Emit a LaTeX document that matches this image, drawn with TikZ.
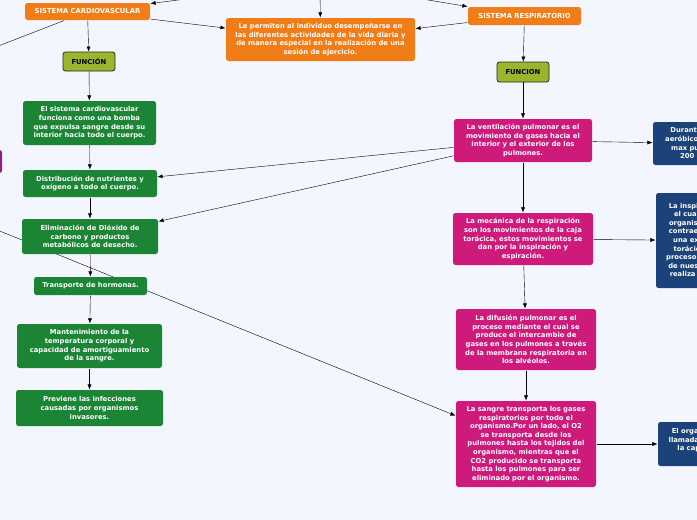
\documentclass[tikz,border=0pt]{standalone}
\usepackage{fontspec}
\setmainfont{DejaVu Sans}
\usepackage{tikz}
\usetikzlibrary{arrows.meta}
\tikzset{>={Latex[length=5pt,width=4pt]}}
\definecolor{bgcol}{HTML}{F3F6FE}
\definecolor{naranja}{HTML}{F07D18}
\definecolor{verde}{HTML}{1B8535}
\definecolor{oliva}{HTML}{9BB52C}
\definecolor{rosa}{HTML}{CD1A7B}
\definecolor{azul}{HTML}{1B4379}
\definecolor{morado}{HTML}{8C1E8C}
\pgfdeclarelayer{edges}
\pgfsetlayers{edges,main}

\begin{document}
\begin{tikzpicture}[x=1pt,y=-1pt,line width=1.1pt,
  box/.style = {rounded corners=2.5pt, align=center, inner sep=1pt, text=white,
                font=\fontsize{6.8}{8.6}\selectfont\bfseries},
  org/.style = {box, fill=naranja},
  fun/.style = {box, fill=oliva, draw=black!85, line width=0.8pt, text=black},
  grn/.style = {box, fill=verde},
  pnk/.style = {box, fill=rosa},
  blu/.style = {box, fill=azul}]
\useasboundingbox (0,0) rectangle (697,520);
\clip (0,0) rectangle (697,520);
    % nodos fuera del cuadro
    \node[org,minimum width=250,minimum height=26] (root) at (320,-18) {};
    \node[box,fill=morado,minimum width=84,minimum height=23] (mor) at (-40,161.5) {};
    \coordinate (ofa) at (-100,84);
    \coordinate (ofb) at (-100,190.6);
    % sistemas
    \node[org,minimum width=125,minimum height=17] (sc) at (87.5,11.5) {SISTEMA CARDIOVASCULAR};
    \node[org,minimum width=113,minimum height=18] (sr) at (524.5,16) {SISTEMA RESPIRATORIO};
    \node[org,minimum width=189,minimum height=43] (top) at (320.5,39.5) {Le permiten al individuo desempeñarse en\\las diferentes actividades de la vida diaria y\\de manera especial en la realización de una\\sesión de ejercicio.};
    \node[fun,minimum width=52,minimum height=19] (f1) at (89,61.5) {FUNCIÓN};
    \node[fun,minimum width=52,minimum height=20] (f2) at (523,72) {FUNCION};
    % cardiovascular
    \node[grn,minimum width=133,minimum height=44] (g1) at (89.5,123) {El sistema cardiovascular\\funciona como una bomba\\que expulsa sangre desde su\\interior hacia todo el cuerpo.};
    \node[grn,minimum width=134,minimum height=27] (g2) at (90,183.5) {Distribución de nutrientes y\\oxígeno a todo el cuerpo.};
    \node[grn,minimum width=136,minimum height=35] (g3) at (90,236.5) {Eliminación de Dióxido de\\carbono y productos\\metabólicos de desecho.};
    \node[grn,minimum width=113,minimum height=18] (g4) at (90.5,286) {Transporte de hormonas.};
    \node[grn,minimum width=145,minimum height=44] (g5) at (89.5,346) {Mantenimiento de la\\temperatura corporal y\\capacidad de amortiguamiento\\de la sangre.};
    \node[grn,minimum width=147,minimum height=36] (g6) at (89.5,408) {Previene las infecciones\\causadas por organismos\\invasores.};
    % respiratorio
    \node[pnk,minimum width=138,minimum height=43] (p1) at (523,140.5) {La ventilación pulmonar es el\\movimiento de gases hacia el\\interior y el exterior de los\\pulmones.};
    \node[pnk,minimum width=140,minimum height=52] (p2) at (523,239) {La mecánica de la respiración\\son los movimientos de la caja\\torácica, estos movimientos se\\dan por la inspiración y\\espiración.};
    \node[pnk,minimum width=140,minimum height=61] (p3) at (526,339.5) {La difusión pulmonar es el\\proceso mediante el cual se\\produce el intercambio de\\gases en los pulmones a través\\de la membrana respiratoria en\\los alvéolos.};
    \node[pnk,minimum width=140,minimum height=86] (p4) at (526,444) {La sangre transporta los gases\\respiratorios por todo el\\organismo.Por un lado, el O2\\se transporta desde los\\pulmones hasta los tejidos del\\organismo, mientras que el\\CO2 producido se transporta\\hasta los pulmones para ser\\eliminado por el organismo.};
    \node[blu,minimum width=110,minimum height=43] (b1) at (708,143.5) {Durante el ejercicio\\aeróbico intenso la VE\\max puede llegar a\\200 litros/min.};
    \node[blu,minimum width=120,minimum height=95] (b2) at (716,240.5) {La inspiración es el paso\\el cual el aire entra al\\organismo, el diafragma\\contrae y así se produce\\una expansión de caja\\torácica, la espiración\\proceso por el cual el aire\\de nuestro organismo se\\realiza de forma pasiva.};
    \node[blu,minimum width=116,minimum height=44] (b3) at (716,444) {El organismo tiene una\\llamada espacio muerto,\\la capacidad de aire\\150 ml.};
\begin{pgfonlayer}{edges}
    \fill[bgcol] (-200,-100) rectangle (900,600);
    \draw[->] (root) to (sc);
    \draw[->] (root) to (top);
    \draw[->] (root) to (sr);
    \draw[->] (sc) to (top);
    \draw[->] (sr) to (top);
    \draw[->] (sc) to (ofa);
    \draw[->] (sc) to (f1);
    \draw[->] (f1) to (g1);
    \draw[->] (g1) to (g2);
    \draw[->] (g2) to (g3);
    \draw[->] (g3) to (g4);
    \draw[->] (g4) to (g5);
    \draw[->] (g5) to (g6);
    \draw[->] (sr) to (f2);
    \draw[->] (f2) to (p1);
    \draw[->] (p1) to (p2);
    \draw[->] (p2) to (p3);
    \draw[->] (p3) to (p4);
    \draw[->] (p1) to (g2);
    \draw[->] (p1) to (g3);
    \draw[->] (p1) to (b1);
    \draw[->] (p2) to (b2);
    \draw[->] (p4) to (b3);
    \draw[->] (ofb) to (p4);
\end{pgfonlayer}
\end{tikzpicture}
\end{document}
